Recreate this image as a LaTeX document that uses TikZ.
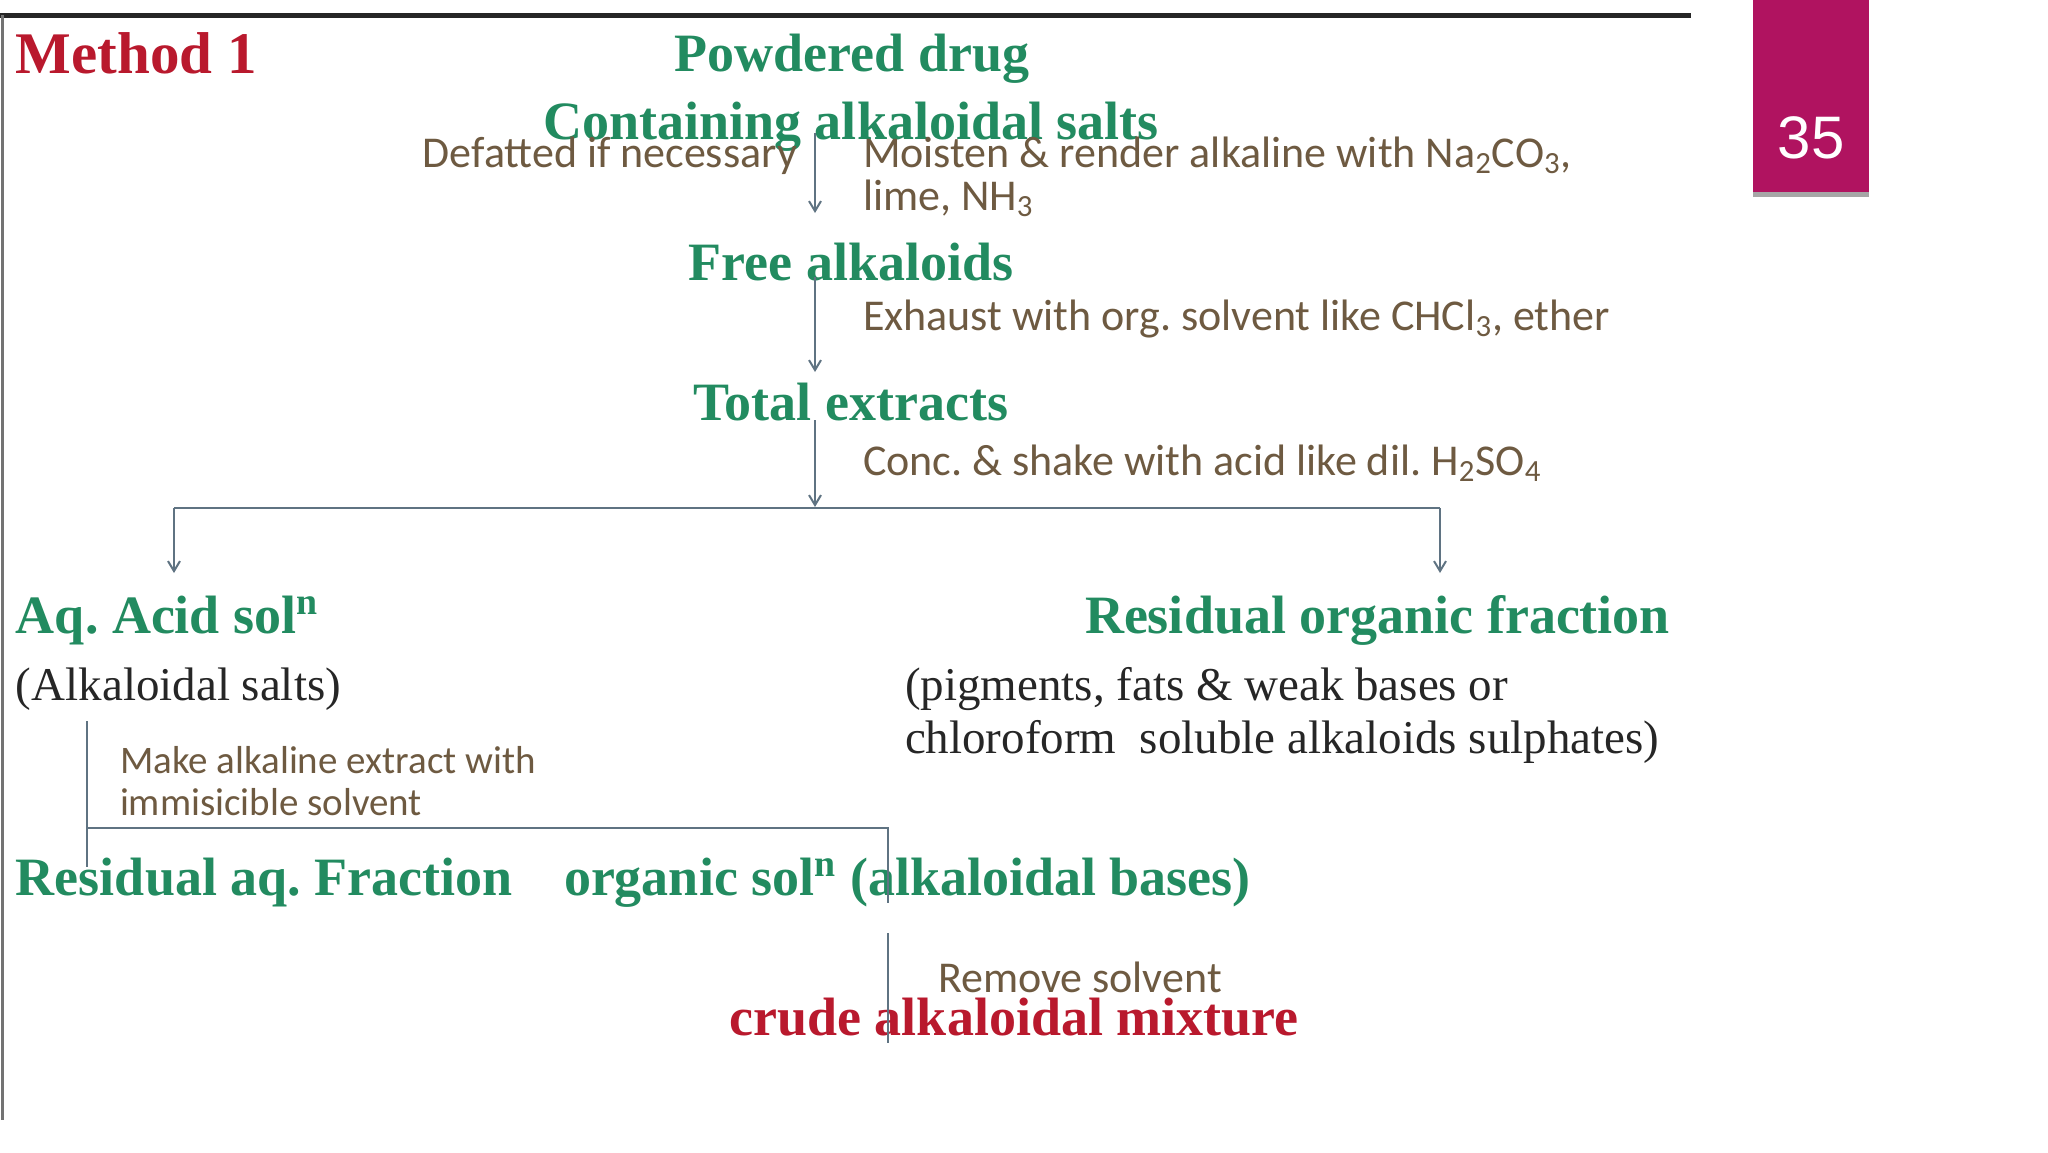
\documentclass[tikz,border=0pt]{standalone}
\usepackage{fontspec}
\setmainfont{Liberation Serif}
\newfontfamily\calib{Carlito}
\newfontfamily\arialf{Liberation Sans}
\usetikzlibrary{arrows.meta}
\frenchspacing
\definecolor{grn}{RGB}{34,139,96}
\definecolor{redt}{RGB}{185,25,45}
\definecolor{brn}{RGB}{110,90,65}
\definecolor{lnc}{RGB}{95,115,130}
\definecolor{mag}{RGB}{176,19,96}
\tikzset{
  hd/.style={text=grn, font=\bfseries\fontsize{27}{30}\selectfont},
  hdred/.style={text=redt, font=\bfseries\fontsize{27}{30}\selectfont},
  note/.style={text=brn, font=\calib\fontsize{22}{24}\selectfont},
  smallnote/.style={text=brn, font=\calib\fontsize{19.5}{22}\selectfont},
  blk/.style={text=black!85, font=\fontsize{23.5}{26}\selectfont},
  conn/.style={draw=lnc, line width=1pt},
  arr/.style={conn, -{Straight Barb[length=5pt,width=6pt]}},
}
\begin{document}
\begin{tikzpicture}[x=0.5pt,y=-0.5pt, every node/.style={inner sep=0pt,outer sep=0pt}]
\useasboundingbox[fill=white] (0,0) rectangle (2048,1152);
% frame
\draw[line width=2.5pt, black!85] (0,15) -- (1691,15);
\draw[line width=1.5pt, black!55] (2,15) -- (2,1120);
% page number box
\fill[black!35] (1753,4) rectangle (1869,197);
\fill[mag] (1753,0) rectangle (1869,192);
\node[text=white, font=\arialf\fontsize{30}{32}\selectfont, anchor=base] (num) at (1811,158) {35};
% texts
\node[hdred, anchor=base west, font=\bfseries\fontsize{29.5}{32}\selectfont] (method) at (16,73) {Method 1};
\node[hd, anchor=base] (powder) at (852,71) {Powdered drug};
\node[hd, anchor=base] (contain) at (851,139) {Containing alkaloidal salts};
\node[note, anchor=base east] (defat) at (797,167) {Defatted if necessary};
\node[note, anchor=base west] (moist) at (863,167) {Moisten \& render alkaline with Na\textsubscript{2}CO\textsubscript{3},};
\node[note, anchor=base west] (lime) at (863,210) {lime, NH\textsubscript{3}};
\node[hd, anchor=base] (free) at (851,280) {Free alkaloids};
\node[note, anchor=base west] (exh) at (863,330) {Exhaust with org. solvent like CHCl\textsubscript{3}, ether};
\node[hd, anchor=base] (total) at (851,420) {Total extracts};
\node[note, anchor=base west] (conc) at (863,475) {Conc. \& shake with acid like dil. H\textsubscript{2}SO\textsubscript{4}};
\node[hd, anchor=base west] (aq) at (16,633) {Aq. Acid sol\textsuperscript{n}};
\node[hd, anchor=base west] (resorg) at (1085,633) {Residual organic fraction};
\node[blk, anchor=base west] (salts) at (16,700) {(Alkaloidal salts)};
\node[blk, anchor=base west] (pig1) at (905,700) {(pigments, fats \& weak bases or};
\node[blk, anchor=base west] (pig2) at (905,753) {chloroform\ \ soluble alkaloids sulphates)};
\node[smallnote, anchor=base west] (make1) at (120,773) {Make alkaline extract with};
\node[smallnote, anchor=base west] (make2) at (120,815) {immisicible solvent};
\node[hd, anchor=base west] (resaq) at (16,895) {Residual aq. Fraction};
\node[hd, anchor=base west] (orgsol) at (564,895) {organic sol\textsuperscript{n} (alkaloidal bases)};
\node[note, anchor=base west] (remove) at (938,992) {Remove solvent};
\node[hdred, anchor=base] (crude) at (1014,1035) {crude alkaloidal mixture};
% connector points
\coordinate (c1a) at (815,133);
\coordinate (c1b) at (815,213);
\coordinate (c2a) at (815,277);
\coordinate (c2b) at (815,372);
\coordinate (c3a) at (815,420);
\coordinate (c3b) at (815,507);
\coordinate (sl) at (174,508);
\coordinate (sr) at (1440,508);
\coordinate (aqtip) at (174,573);
\coordinate (restip) at (1440,573);
\coordinate (l1) at (87,721);
\coordinate (l2) at (87,867);
\coordinate (hl) at (87,828);
\coordinate (hr) at (888,828);
\coordinate (og) at (888,903);
\coordinate (og2) at (888,933);
\coordinate (cr) at (888,1043);
% connectors
\draw[arr] (c1a) -- (c1b);
\draw[arr] (c2a) -- (c2b);
\draw[arr] (c3a) -- (c3b);
\draw[conn] (sl) -- (sr);
\draw[arr] (sl) -- (aqtip);
\draw[arr] (sr) -- (restip);
\draw[conn] (l1) -- (l2);
\draw[conn] (hl) -- (hr) -- (og);
\draw[conn] (og2) -- (cr);
\end{tikzpicture}
\end{document}
